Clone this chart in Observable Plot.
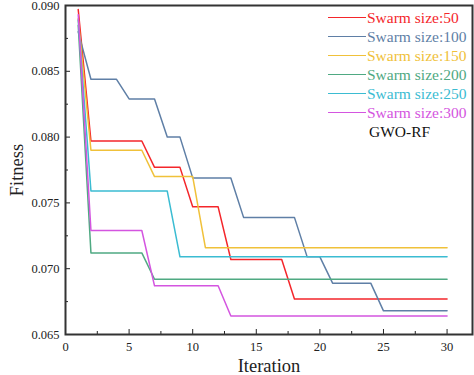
<!DOCTYPE html>
<html>
<head>
<meta charset="utf-8">
<script src="https://cdn.jsdelivr.net/npm/d3@7"></script>
<script src="https://cdn.jsdelivr.net/npm/@observablehq/plot@0.6"></script>
<style>
  html, body { margin: 0; padding: 0; background: #fff; }
  #wrap { position: relative; width: 474px; height: 375px; }
  #wrap, #wrap * { font-family: 'Liberation Serif', 'Times New Roman', serif !important; }
  #wrap svg text { font-family: 'Liberation Serif', 'Times New Roman', serif !important; }
  #legend { position: absolute; left: 328px; top: 8px; font-size: 15.5px; line-height: 19px; font-weight: normal; }
  .row { display: flex; align-items: center; height: 19px; }
  .sw { width: 38px; height: 0; border-top: 1.6px solid; margin-right: 1px; }
  #title { position: absolute; left: 369px; top: 123px; font-size: 15.5px; color: #111; font-weight: normal; }
</style>
</head>
<body>
<div id="wrap">
  <div id="chart"></div>
  <div id="legend"></div>
  <div id="title">GWO-RF</div>
</div>
<script>
const iterations = d3.range(1, 31);
const seriesNames = ["Swarm size:50", "Swarm size:100", "Swarm size:150", "Swarm size:200", "Swarm size:250", "Swarm size:300"];
const seriesColors = ["#f4262b", "#5f7fa6", "#f0c13a", "#4fa982", "#3bbcd2", "#d455e0"];
const swarm50 = [0.0897, 0.0797, 0.0797, 0.0797, 0.0797, 0.0797, 0.0777, 0.0777, 0.0777, 0.0747, 0.0747, 0.0747, 0.0707, 0.0707, 0.0707, 0.0707, 0.0707, 0.0677, 0.0677, 0.0677, 0.0677, 0.0677, 0.0677, 0.0677, 0.0677, 0.0677, 0.0677, 0.0677, 0.0677, 0.0677];
const swarm100 = [0.0880, 0.0844, 0.0844, 0.0844, 0.0829, 0.0829, 0.0829, 0.0800, 0.0800, 0.0769, 0.0769, 0.0769, 0.0769, 0.0739, 0.0739, 0.0739, 0.0739, 0.0739, 0.0709, 0.0709, 0.0689, 0.0689, 0.0689, 0.0689, 0.0668, 0.0668, 0.0668, 0.0668, 0.0668, 0.0668];
const swarm150 = [0.0890, 0.0790, 0.0790, 0.0790, 0.0790, 0.0790, 0.0770, 0.0770, 0.0770, 0.0770, 0.0716, 0.0716, 0.0716, 0.0716, 0.0716, 0.0716, 0.0716, 0.0716, 0.0716, 0.0716, 0.0716, 0.0716, 0.0716, 0.0716, 0.0716, 0.0716, 0.0716, 0.0716, 0.0716, 0.0716];
const swarm200 = [0.0885, 0.0712, 0.0712, 0.0712, 0.0712, 0.0712, 0.0692, 0.0692, 0.0692, 0.0692, 0.0692, 0.0692, 0.0692, 0.0692, 0.0692, 0.0692, 0.0692, 0.0692, 0.0692, 0.0692, 0.0692, 0.0692, 0.0692, 0.0692, 0.0692, 0.0692, 0.0692, 0.0692, 0.0692, 0.0692];
const swarm250 = [0.0889, 0.0759, 0.0759, 0.0759, 0.0759, 0.0759, 0.0759, 0.0759, 0.0709, 0.0709, 0.0709, 0.0709, 0.0709, 0.0709, 0.0709, 0.0709, 0.0709, 0.0709, 0.0709, 0.0709, 0.0709, 0.0709, 0.0709, 0.0709, 0.0709, 0.0709, 0.0709, 0.0709, 0.0709, 0.0709];
const swarm300 = [0.0893, 0.0729, 0.0729, 0.0729, 0.0729, 0.0729, 0.0687, 0.0687, 0.0687, 0.0687, 0.0687, 0.0687, 0.0664, 0.0664, 0.0664, 0.0664, 0.0664, 0.0664, 0.0664, 0.0664, 0.0664, 0.0664, 0.0664, 0.0664, 0.0664, 0.0664, 0.0664, 0.0664, 0.0664, 0.0664];
const xTicks = [0, 5, 10, 15, 20, 25, 30];
const xMinorTicks = [2.5, 7.5, 12.5, 17.5, 22.5, 27.5];
const yTicks = [0.065, 0.070, 0.075, 0.080, 0.085, 0.090];
const yMinorTicks = [0.0675, 0.0725, 0.0775, 0.0825, 0.0875];

const allSeries = [swarm50, swarm100, swarm150, swarm200, swarm250, swarm300];
const data = [];
allSeries.forEach((vals, si) => vals.forEach((v, i) => data.push({series: seriesNames[si], iter: iterations[i], fit: v})));

const chart = Plot.plot({
  width: 474,
  height: 375,
  marginLeft: 65,
  marginRight: 2,
  marginTop: 5,
  marginBottom: 41,
  style: {fontFamily: "'Liberation Serif', serif", fontSize: "12.5px", color: "#222", background: "white"},
  x: {domain: [0, 32]},
  y: {domain: [0.065, 0.090]},
  color: {domain: seriesNames, range: seriesColors},
  marks: [
    Plot.axisX({ticks: xTicks, tickSize: -5, tickPadding: 13, tickFormat: d => d, label: "Iteration", labelAnchor: "center", labelArrow: "none", labelOffset: 37, fontSize: 12.5}),
    Plot.axisX({ticks: xMinorTicks, tickSize: -3, text: null, label: null}),
    Plot.axisY({ticks: yTicks, tickSize: -5, tickPadding: 11, tickFormat: d3.format(".3f"), label: "Fitness", labelAnchor: "center", labelArrow: "none", labelOffset: 56, fontSize: 12.5}),
    Plot.axisY({ticks: yMinorTicks, tickSize: -3, text: null, label: null}),
    Plot.line(data, {x: "iter", y: "fit", z: "series", stroke: "series", strokeWidth: 1.5}),
    Plot.frame({stroke: "#333", strokeWidth: 2})
  ]
});
document.getElementById("chart").appendChild(chart);
d3.select(chart).selectAll("[aria-label='x-axis label'] text, [aria-label='y-axis label'] text").style("font-size", "18.5px");

const legend = d3.select("#legend");
seriesNames.forEach((n, i) => {
  const row = legend.append("div").attr("class", "row");
  row.append("div").attr("class", "sw").style("border-color", seriesColors[i]);
  row.append("span").style("color", seriesColors[i]).text(n);
});
</script>
</body>
</html>
